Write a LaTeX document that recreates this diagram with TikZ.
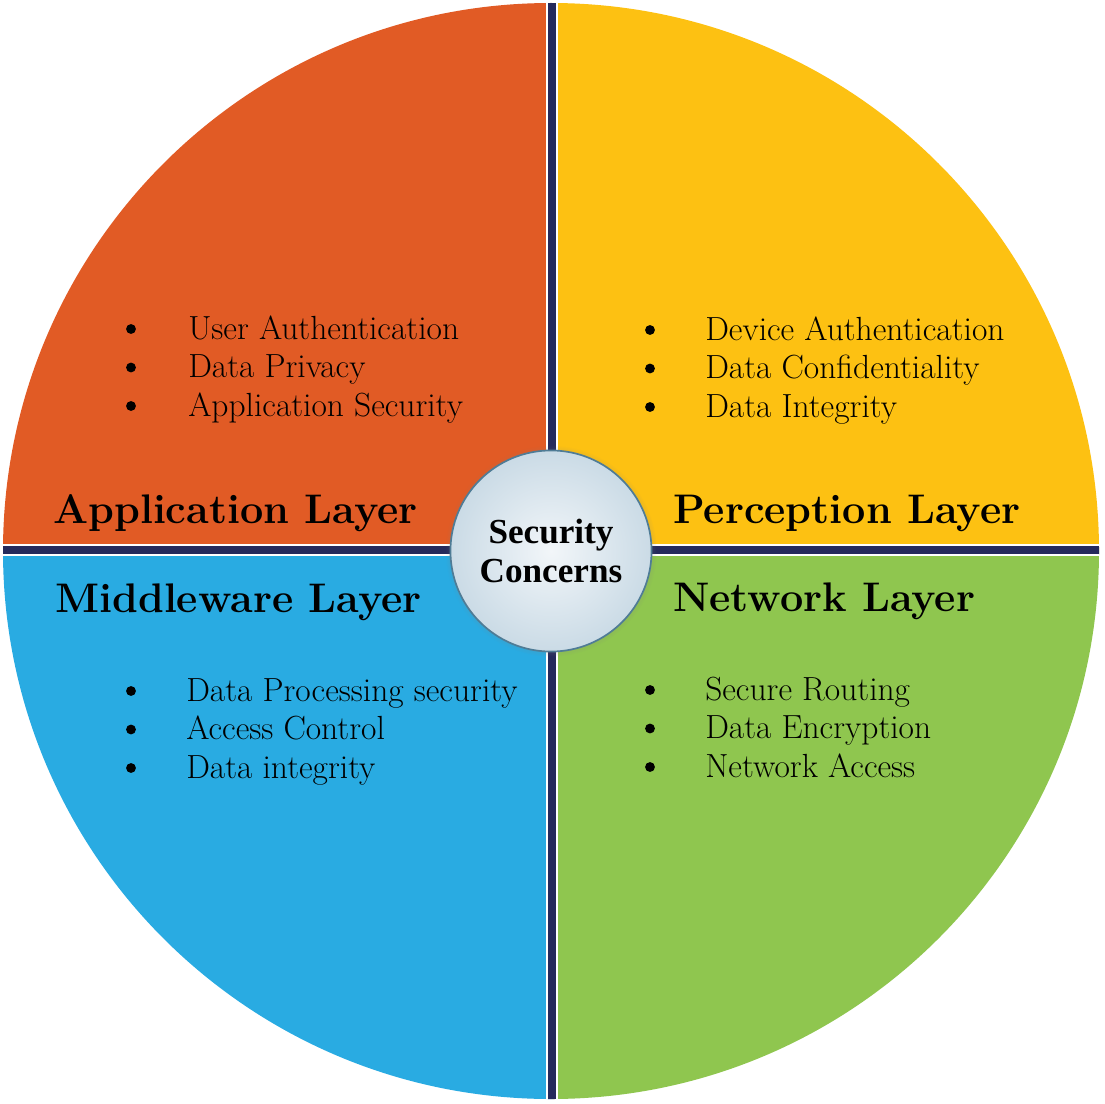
\documentclass[tikz,border=0pt]{standalone}
\usepackage{fontspec}
\usetikzlibrary{shadows}
\newfontfamily\corefont{Liberation Serif}

\definecolor{applcol}{HTML}{E15B25}
\definecolor{perccol}{HTML}{FDC112}
\definecolor{midwcol}{HTML}{29ABE2}
\definecolor{netwcol}{HTML}{8FC64F}
\definecolor{navy}{HTML}{252A5C}
\definecolor{coreIn}{HTML}{F2F6F9}
\definecolor{coreMid}{HTML}{CFDEE8}
\definecolor{coreOut}{HTML}{A3C0D3}
\definecolor{coreEdge}{HTML}{4F7C96}

\pgfdeclareradialshading{coreshade}{\pgfpoint{0bp}{0bp}}{color(0bp)=(coreIn); color(22bp)=(coreMid); color(50bp)=(coreOut)}

\tikzstyle{dot}=[circle, fill=black, inner sep=0pt, minimum size=7pt]
\tikzstyle{item}=[anchor=base west, inner sep=0pt, font=\fontsize{23.8}{28}\selectfont]
\tikzstyle{layer}=[anchor=base west, inner sep=0pt, font=\bfseries\fontsize{29.4}{33}\selectfont]
\tikzstyle{core}=[circle, draw=coreEdge, line width=1.2pt, minimum size=143pt, inner sep=0pt,
  shading=coreshade, align=center, circular drop shadow={shadow xshift=0pt, shadow yshift=0pt, shadow scale=1.05, opacity=0.45},
  font=\corefont\bfseries\fontsize{25}{28.4}\selectfont]

\begin{document}
\begin{tikzpicture}[x=0.025cm, y=-0.025cm]

\useasboundingbox (0,0) rectangle (1105,1104);

% the four quarters
\begin{scope}
\clip (551,551) circle [radius=548];
\fill[applcol] (0,0) rectangle (552,550);
\fill[perccol] (552,0) rectangle (1105,550);
\fill[midwcol] (0,550) rectangle (552,1104);
\fill[netwcol] (552,550) rectangle (1105,1104);
\draw[white, line width=8.6pt] (552,0) -- (552,1104);
\draw[white, line width=8.6pt] (0,550) -- (1105,550);
\draw[navy, line width=6.2pt] (552,0) -- (552,1104);
\draw[navy, line width=6.2pt] (0,550) -- (1105,550);
\end{scope}

\node[core] (core) at (551,551) {Security\\Concerns};

\node[layer] (appl) at (53,523) {Application Layer};
\node[layer] (perl) at (673,523) {Perception Layer};
\node[layer] (midl) at (55,612) {Middleware Layer};
\node[layer] (netl) at (673,611) {Network Layer};

\def \gap {38.5}

\foreach \txt [count=\i] in {User Authentication, Data Privacy, Application Security}{
  \node[dot] (appdot\i) at (131,329 + \gap*\i - \gap) {};
  \node[item] (app\i) at (188,339 + \gap*\i - \gap) {\txt};
}
\foreach \txt [count=\i] in {Device Authentication, Data Confidentiality, Data Integrity}{
  \node[dot] (perdot\i) at (650,330 + \gap*\i - \gap) {};
  \node[item] (per\i) at (705,340 + \gap*\i - \gap) {\txt};
}
\foreach \txt [count=\i] in {Data Processing security, Access Control, Data integrity}{
  \node[dot] (middot\i) at (131,691 + \gap*\i - \gap) {};
  \node[item] (mid\i) at (186,701 + \gap*\i - \gap) {\txt};
}
\foreach \txt [count=\i] in {Secure Routing, Data Encryption, Network Access}{
  \node[dot] (netdot\i) at (650,690 + \gap*\i - \gap) {};
  \node[item] (net\i) at (705,700 + \gap*\i - \gap) {\txt};
}

\end{tikzpicture}
\end{document}
